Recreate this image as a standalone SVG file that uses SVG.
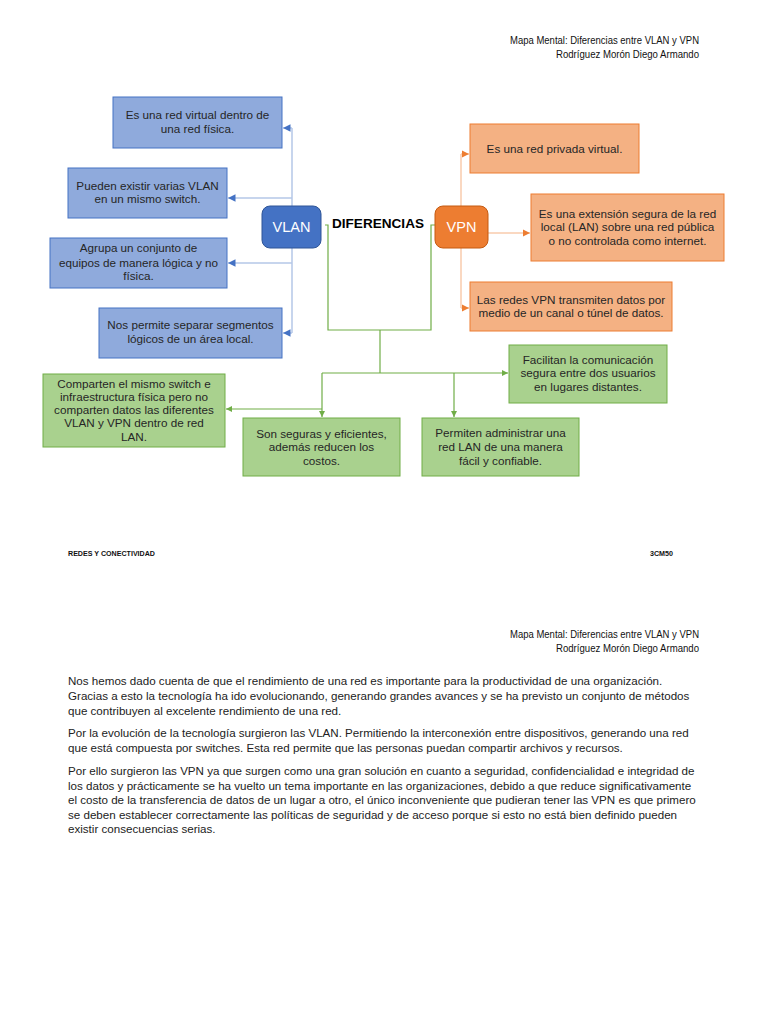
<svg xmlns="http://www.w3.org/2000/svg" width="768" height="1024" viewBox="0 0 768 1024">
<style>
text{font-family:"Liberation Sans",Arial,sans-serif;fill:#262626}
.bx{font-size:11.7px;text-anchor:middle}
.blue{fill:#8faadc;stroke:#4472c4;stroke-width:1}
.org{fill:#f4b183;stroke:#ed7d31;stroke-width:1}
.grn{fill:#a9d18e;stroke:#70ad47;stroke-width:1}
.hdr{font-size:11px;text-anchor:end;fill:#111}
.ftr{font-size:6.5px;font-weight:bold;fill:#111}
.par{font-size:11.6px;fill:#222}
.cb{fill:none;stroke:#b4c7e7;stroke-width:1.5}
.co{fill:none;stroke:#f8cbad;stroke-width:1.5}
.cg{fill:none;stroke:#70ad47;stroke-width:1.2}
</style>
<defs>
<marker id="ab" viewBox="0 0 10 10" refX="10" refY="5" markerWidth="5" markerHeight="5" orient="auto"><path d="M0,0L10,5L0,10z" fill="#4472c4"/></marker>
<marker id="ao" viewBox="0 0 10 10" refX="10" refY="5" markerWidth="5" markerHeight="5" orient="auto"><path d="M0,0L10,5L0,10z" fill="#ed7d31"/></marker>
<marker id="ag" viewBox="0 0 10 10" refX="10" refY="5" markerWidth="5" markerHeight="5" orient="auto"><path d="M0,0L10,5L0,10z" fill="#70ad47"/></marker>
</defs>
<rect width="768" height="1024" fill="#fff"/>

<g id="header1">
<text class="hdr" x="699" y="44" textLength="189" lengthAdjust="spacingAndGlyphs">Mapa Mental: Diferencias entre VLAN y VPN</text>
<text class="hdr" x="699" y="58" textLength="143" lengthAdjust="spacingAndGlyphs">Rodríguez Morón Diego Armando</text>
</g>

<g id="connectors">
<path class="cb" d="M292,128V333"/>
<path class="cb" d="M292,128H283" marker-end="url(#ab)"/>
<path class="cb" d="M292,198H228" marker-end="url(#ab)"/>
<path class="cb" d="M292,263H228" marker-end="url(#ab)"/>
<path class="cb" d="M292,333H283" marker-end="url(#ab)"/>
<path class="co" d="M461,154V308"/>
<path class="co" d="M461,154H469" marker-end="url(#ao)"/>
<path class="co" d="M461,308H469" marker-end="url(#ao)"/>
<path class="co" d="M488,233H530" marker-end="url(#ao)"/>
<path class="cg" d="M325,225H328V330H431V225H435"/>
<path class="cg" d="M380,330V373"/>
<path class="cg" d="M322,373H508" marker-end="url(#ag)"/>
<path class="cg" d="M322,373V417" marker-end="url(#ag)"/>
<path class="cg" d="M454,373V417" marker-end="url(#ag)"/>
<path class="cg" d="M322,409H226" marker-end="url(#ag)"/>
</g>

<g id="vlan">
<rect x="262" y="206" width="59" height="42" rx="8" fill="#4472c4" stroke="#2f5597" stroke-width="1"/>
<text x="291.5" y="232" font-size="14.5" text-anchor="middle" style="fill:#fff">VLAN</text>
</g>
<g id="diferencias">
<text x="332" y="228" font-size="13" font-weight="bold" textLength="92" lengthAdjust="spacingAndGlyphs" style="fill:#000">DIFERENCIAS</text>
</g>
<g id="vpn">
<rect x="435" y="206" width="53" height="42" rx="8" fill="#ed7d31" stroke="#c55a11" stroke-width="1"/>
<text x="461.5" y="232" font-size="14.5" text-anchor="middle" style="fill:#fff">VPN</text>
</g>

<g id="vlan1"><rect class="blue" x="113" y="97" width="169" height="51"/>
<text class="bx" x="197.5" y="119">Es una red virtual dentro de</text><text class="bx" x="197.5" y="133">una red física.</text></g>
<g id="vlan2"><rect class="blue" x="68" y="168" width="159" height="50"/>
<text class="bx" x="147.5" y="190">Pueden existir varias VLAN</text><text class="bx" x="147.5" y="203">en un mismo switch.</text></g>
<g id="vlan3"><rect class="blue" x="50" y="238" width="177" height="50"/>
<text class="bx" x="138.5" y="252">Agrupa un conjunto de</text><text class="bx" x="138.5" y="267">equipos de manera lógica y no</text><text class="bx" x="138.5" y="280">física.</text></g>
<g id="vlan4"><rect class="blue" x="99" y="308" width="183" height="50"/>
<text class="bx" x="190.5" y="329">Nos permite separar segmentos</text><text class="bx" x="190.5" y="343">lógicos de un área local.</text></g>

<g id="vpn1"><rect class="org" x="470" y="124" width="169" height="49"/>
<text class="bx" x="554.5" y="153">Es una red privada virtual.</text></g>
<g id="vpn2"><rect class="org" x="531" y="194" width="193" height="67"/>
<text class="bx" x="627.5" y="218">Es una extensión segura de la red</text><text class="bx" x="627.5" y="231">local (LAN) sobre una red pública</text><text class="bx" x="627.5" y="245">o no controlada como internet.</text></g>
<g id="vpn3"><rect class="org" x="470" y="282" width="202" height="49"/>
<text class="bx" x="571" y="304">Las redes VPN transmiten datos por</text><text class="bx" x="571" y="317">medio de un canal o túnel de datos.</text></g>

<g id="g1"><rect class="grn" x="43" y="374" width="182" height="73"/>
<text class="bx" x="134" y="388">Comparten el mismo switch e</text><text class="bx" x="134" y="401">infraestructura física pero no</text><text class="bx" x="134" y="414">comparten datos las diferentes</text><text class="bx" x="134" y="427">VLAN y VPN dentro de red</text><text class="bx" x="134" y="441">LAN.</text></g>
<g id="g2"><rect class="grn" x="243" y="418" width="157" height="58"/>
<text class="bx" x="321.5" y="438">Son seguras y eficientes,</text><text class="bx" x="321.5" y="451">además reducen los</text><text class="bx" x="321.5" y="465">costos.</text></g>
<g id="g3"><rect class="grn" x="422" y="418" width="157" height="58"/>
<text class="bx" x="500.5" y="437">Permiten administrar una</text><text class="bx" x="500.5" y="451">red LAN de una manera</text><text class="bx" x="500.5" y="465">fácil y confiable.</text></g>
<g id="g4"><rect class="grn" x="509" y="345" width="158" height="58"/>
<text class="bx" x="588" y="364">Facilitan la comunicación</text><text class="bx" x="588" y="377">segura entre dos usuarios</text><text class="bx" x="588" y="391">en lugares distantes.</text></g>

<g id="footer">
<text class="ftr" x="68" y="556" textLength="87" lengthAdjust="spacingAndGlyphs">REDES Y CONECTIVIDAD</text>
<text class="ftr" x="650" y="556" textLength="23" lengthAdjust="spacingAndGlyphs">3CM50</text>
</g>

<g id="header2">
<text class="hdr" x="699" y="638" textLength="189" lengthAdjust="spacingAndGlyphs">Mapa Mental: Diferencias entre VLAN y VPN</text>
<text class="hdr" x="699" y="652" textLength="143" lengthAdjust="spacingAndGlyphs">Rodríguez Morón Diego Armando</text>
</g>

<g id="body">
<text class="par" x="68" y="685">Nos hemos dado cuenta de que el rendimiento de una red es importante para la productividad de una organización.</text>
<text class="par" x="68" y="700">Gracias a esto la tecnología ha ido evolucionando, generando grandes avances y se ha previsto un conjunto de métodos</text>
<text class="par" x="68" y="715">que contribuyen al excelente rendimiento de una red.</text>
<text class="par" x="68" y="737">Por la evolución de la tecnología surgieron las VLAN. Permitiendo la interconexión entre dispositivos, generando una red</text>
<text class="par" x="68" y="752">que está compuesta por switches. Esta red permite que las personas puedan compartir archivos y recursos.</text>
<text class="par" x="68" y="775">Por ello surgieron las VPN ya que surgen como una gran solución en cuanto a seguridad, confidencialidad e integridad de</text>
<text class="par" x="68" y="790">los datos y prácticamente se ha vuelto un tema importante en las organizaciones, debido a que reduce significativamente</text>
<text class="par" x="68" y="804">el costo de la transferencia de datos de un lugar a otro, el único inconveniente que pudieran tener las VPN es que primero</text>
<text class="par" x="68" y="819">se deben establecer correctamente las políticas de seguridad y de acceso porque si esto no está bien definido pueden</text>
<text class="par" x="68" y="833">existir consecuencias serias.</text>
</g>
</svg>
